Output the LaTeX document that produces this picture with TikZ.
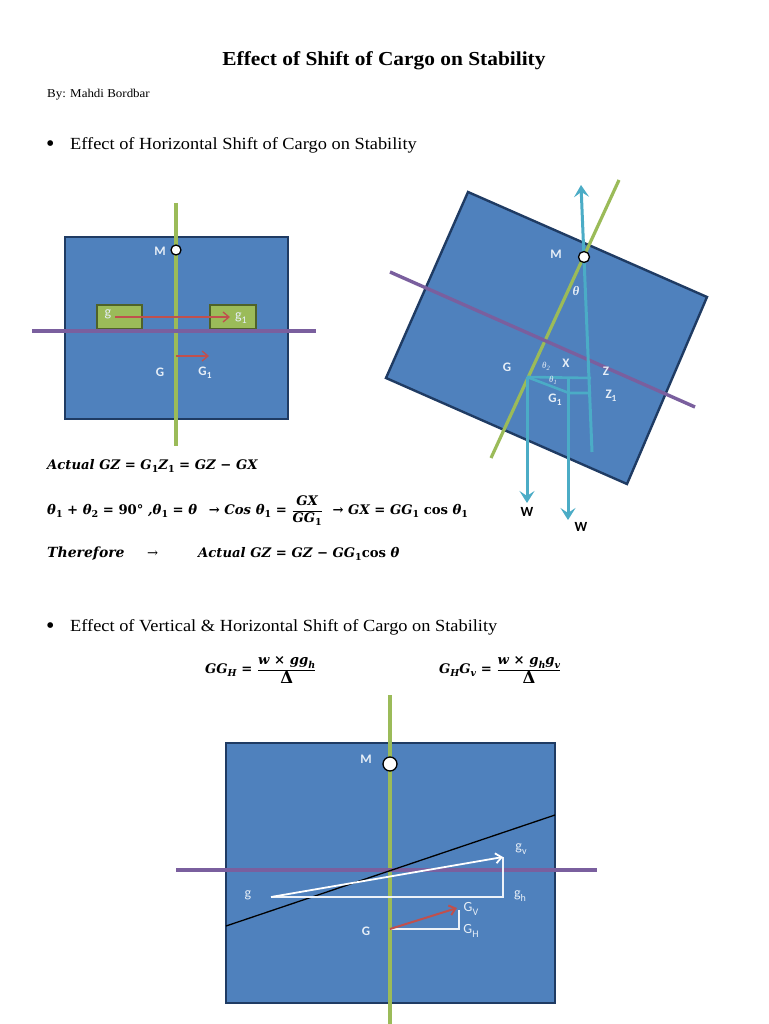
\documentclass[tikz,border=0pt]{standalone}
\usepackage{fontspec}
\setmainfont{Liberation Serif}
\newfontfamily\lab{Carlito}
\newfontfamily\stf[FakeStretch=1.08]{Liberation Serif}
\newfontfamily\eqf{DejaVu Serif}
\usetikzlibrary{arrows.meta}
\definecolor{shipblue}{HTML}{4F81BD}
\definecolor{shipedge}{HTML}{1F3B63}
\definecolor{gline}{HTML}{9BBB59}
\definecolor{gedge}{HTML}{4F6228}
\definecolor{pline}{HTML}{7A5F9E}
\definecolor{rline}{HTML}{C0504D}
\definecolor{tline}{HTML}{4BACC6}
\definecolor{ltext}{HTML}{E6EEF7}
\newcommand{\bsub}[1]{\raisebox{-0.25em}{\scalebox{0.72}{#1}}}
\newcommand{\bsubu}[1]{\raisebox{-0.25em}{\scalebox{0.72}{\upshape #1}}}
\newcommand{\eq}[1]{{\eqf\bfseries\itshape #1}}
\newcommand{\up}[1]{{\upshape #1}}
\newcommand{\stackfrac}[2]{\ensuremath{\dfracx{\mbox{#1}}{\mbox{#2}}}}
\newcommand{\dfracx}[2]{{\displaystyle\frac{#1}{#2}}}
\tikzset{
  ship/.style={draw=shipedge,fill=shipblue,line width=2.4pt,line join=miter},
  mast/.style={draw=gline,line width=3.2pt},
  wline/.style={draw=pline,line width=3.4pt},
  cargo/.style={draw=gedge,fill=gline,line width=2.2pt},
  redarrow/.style={draw=rline,line width=1.3pt,-{Straight Barb[length=6pt,width=10pt]}},
  redarrowb/.style={draw=rline,line width=2pt,-{Straight Barb[length=6pt,width=10pt]}},
  tealarrow/.style={draw=tline,line width=3pt,-{Stealth[length=12pt,width=15pt,inset=5pt]}},
  teal/.style={draw=tline,line width=2.6pt},
  whiteline/.style={draw=white!90!shipblue,line width=1.5pt},
  whitearrow/.style={draw=white,line width=1.8pt,-{Straight Barb[length=6pt,width=10pt]}},
  metac/.style={draw=black,fill=white,line width=1.3pt,circle,inner sep=0pt},
  lbl/.style={inner sep=0pt,text=ltext,font=\lab\bfseries\fontsize{13}{14}\selectfont},
  lbln/.style={inner sep=0pt,text=ltext,font=\lab\fontsize{14}{15}\selectfont},
  blk/.style={inner sep=0pt,text=black,font=\lab\bfseries\fontsize{14}{14}\selectfont},
  body/.style={inner sep=0pt,anchor=base west,text=black},
  bul/.style={inner sep=0pt,anchor=base west,text=black,font=\fontsize{24}{24}\selectfont},
  eqn/.style={inner sep=0pt,anchor=base west,text=black,font=\fontsize{13.2}{15}\selectfont},
}
\begin{document}
\begin{tikzpicture}[x=1pt,y=-1pt]
\useasboundingbox (0,0) rectangle (768,1024);
\fill[white] (0,0) rectangle (768,1024);
% headings
\node[body,anchor=base,font=\stf\bfseries\fontsize{19.8}{22}\selectfont] (title) at (384,66) {Effect of Shift of Cargo on Stability};
\node[body,font=\stf\fontsize{12}{13}\selectfont] (by) at (47,98) {By: Mahdi Bordbar};
\node[bul] (b1) at (46,152) {•};
\node[body,font=\stf\fontsize{17}{18}\selectfont] (h1) at (70,150) {Effect of Horizontal Shift of Cargo on Stability};
\node[bul] (b2) at (46,633) {•};
\node[body,font=\stf\fontsize{17}{18}\selectfont] (h2) at (70,631) {Effect of Vertical \& Horizontal Shift of Cargo on Stability};
% left ship
\node[ship,minimum width=223pt,minimum height=182pt,inner sep=0pt] (lship) at (176.5,328) {};
\coordinate (lmt) at (176,203); \coordinate (lmb) at (176,446);
\coordinate (lwl) at (32,331); \coordinate (lwr) at (316,331);
\draw[mast] (lmt) -- (lmb);
\node[cargo,minimum width=45pt,minimum height=24pt,inner sep=0pt] (cg) at (119.5,317) {};
\node[cargo,minimum width=46pt,minimum height=24pt,inner sep=0pt] (cg1) at (233,317) {};
\draw[wline] (lwl) -- (lwr);
\node[metac,minimum size=10pt] (lm) at (176,250) {};
\node[lbl] (lmlab) at (160,251) {M};
\node[lbln] (lg) at (108,314) {g};
\node[lbln] (lg1) at (241,318) {g\bsub{1}};
\coordinate (la) at (115,317); \coordinate (lb) at (230,317);
\draw[redarrow] (la) -- (lb);
\coordinate (lc) at (176,356); \coordinate (ld) at (209,356);
\draw[redarrow] (lc) -- (ld);
\node[lbl] (lglab) at (160,372) {G};
\node[lbl] (lg1lab) at (205,373) {G\bsub{1}};
% right ship
\draw[ship] (468,192) coordinate (ra) -- (707,297) coordinate (rb) -- (627,484) coordinate (rc) -- (386,378) coordinate (rd) -- cycle;
\coordinate (rmb) at (491,458); \coordinate (rmt) at (619,180);
\coordinate (rwl) at (390,272); \coordinate (rwr) at (695,407);
\draw[mast] (rmb) -- (rmt);
\draw[wline] (rwl) -- (rwr);
\coordinate (vb) at (592,452); \coordinate (vt) at (581,185);
\draw[tealarrow] (vb) -- (vt);
\node[metac,minimum size=11pt] (rm) at (584,257) {};
\coordinate (gp) at (527,377); \coordinate (zp) at (591,378);
\coordinate (g1p) at (569,393); \coordinate (z1p) at (591,393);
\coordinate (w1) at (527,503); \coordinate (w2t) at (568,378); \coordinate (w2) at (568,520);
\draw[teal] (gp) -- (zp);
\draw[teal] (gp) -- (g1p) -- (z1p);
\draw[tealarrow] (gp) -- (w1);
\draw[tealarrow] (w2t) -- (w2);
\node[lbl] (rmlab) at (556,254) {M};
\node[lbl,font=\bfseries\itshape\fontsize{13}{14}\selectfont] (rth) at (576,291) {θ};
\node[lbl] (rglab) at (507,367) {G};
\node[lbl,font=\itshape\fontsize{9}{10}\selectfont] (th2) at (546,366) {θ\bsub{2}};
\node[lbl] (xlab) at (566,363) {X};
\node[lbl,font=\itshape\fontsize{9}{10}\selectfont] (th1) at (553,380) {θ\bsub{1}};
\node[lbl] (zlab) at (606,371) {Z};
\node[lbl] (g1lab) at (555,400) {G\bsub{1}};
\node[lbl] (z1lab) at (611,396) {Z\bsub{1}};
\node[blk] (wa) at (527,512) {W};
\node[blk] (wb) at (581,527) {W};
% equations
\node[eqn] (e1) at (47,469) {\eq{Actual GZ = G\bsubu{1}Z\bsubu{1} = GZ − GX}};
\node[eqn] (e2) at (47,514) {\eq{θ\bsubu{1} + θ\bsubu{2} = \up{90°} ,θ\bsubu{1} = θ\hspace{7pt}  → Cos θ\bsubu{1} = \stackfrac{\eq{GX}}{\eq{GG\bsubu{1}}}\hspace{5pt}  → GX = GG\bsubu{1} \up{cos} θ\bsubu{1}}};
\node[eqn,font=\fontsize{14}{15}\selectfont] (e3a) at (47,557) {\eq{Therefore}};
\node[eqn] (e3b) at (147,557) {\eqf →};
\node[eqn] (e3c) at (198,557) {\eq{Actual GZ = GZ − GG\bsubu{1}\up{cos} θ}};
\node[eqn] (e4) at (205,673) {\eq{GG\bsub{H} = \stackfrac{\eq{w × gg\bsub{h}}}{\up{\scalebox{1.25}{Δ}}}}};
\node[eqn] (e5) at (439,673) {\eq{G\bsub{H}G\bsub{v} = \stackfrac{\eq{w × g\bsub{h}g\bsub{v}}}{\up{\scalebox{1.25}{Δ}}}}};
% bottom ship
\node[ship,minimum width=329pt,minimum height=260pt,inner sep=0pt] (bship) at (390.5,873) {};
\coordinate (bmt) at (390,695); \coordinate (bmb) at (390,1024);
\coordinate (bwl) at (176,870); \coordinate (bwr) at (597,870);
\coordinate (bl1) at (226,926); \coordinate (bl2) at (555,815);
\draw[mast] (bmt) -- (bmb);
\draw[wline] (bwl) -- (bwr);
\draw[black,line width=1.3pt] (bl1) -- (bl2);
\node[metac,minimum size=14pt] (bm) at (390,764) {};
\node[lbl] (bmlab) at (366,759) {M};
\coordinate (pg) at (271,897); \coordinate (pgh) at (503,897); \coordinate (pgv) at (503,857);
\draw[whiteline] (pg) -- (pgh) -- (pgv);
\draw[whitearrow] (pg) -- (pgv);
\coordinate (pG) at (390,929); \coordinate (pGH) at (459,929); \coordinate (pGV) at (459,910); \coordinate (pGa) at (457,908);
\draw[whiteline] (pG) -- (pGH) -- (pGV);
\draw[redarrowb] (pG) -- (pGa);
\node[lbln] (bg) at (248,895) {g};
\node[lbln] (bgv) at (521,849) {g\bsub{v}};
\node[lbln] (bgh) at (520,896) {g\bsub{h}};
\node[lbl] (bGlab) at (366,931) {G};
\node[lbln] (bGv) at (471,909) {G\bsub{V}};
\node[lbln] (bGh) at (471,931) {G\bsub{H}};
\end{tikzpicture}
\end{document}
